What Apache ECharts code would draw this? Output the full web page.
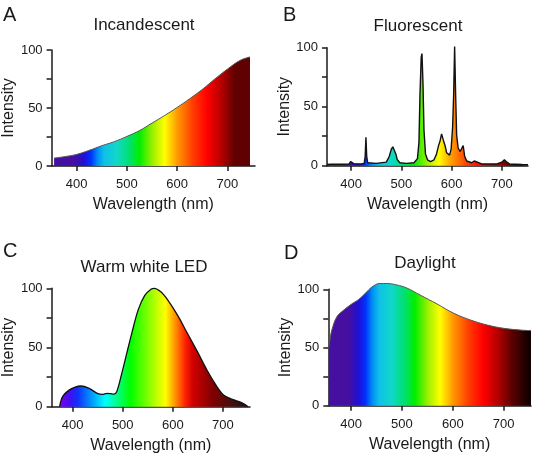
<!DOCTYPE html>
<html>
<head>
<meta charset="utf-8">
<script src="https://cdn.jsdelivr.net/npm/echarts@6/dist/echarts.min.js"></script>
<style>
html,body{margin:0;padding:0;background:#fff;}
#chart{width:533px;height:461px;}
</style>
</head>
<body>
<div id="chart"></div>
<script>
// ---------- Data ----------
const panelLetters = ['A', 'B', 'C', 'D'];
const panelTitles = ['Incandescent', 'Fluorescent', 'Warm white LED', 'Daylight'];
const xTickValues = [400, 500, 600, 700];
const yTickLabelValues = [0, 50, 100];

const wavelengthA = [355, 375, 400, 425, 450, 475, 500, 525, 550, 575, 600, 625, 650, 675, 700, 725, 745];
const intensityA  = [6.8, 8, 10, 13.5, 17.5, 21, 25.5, 30.5, 37, 43.5, 50.5, 58, 66, 75, 83.5, 91, 94];

const wavelengthB = [352, 360, 380, 396, 399, 402, 405, 420, 426, 428, 429.5, 431, 433, 450, 470, 476, 480, 483, 486, 489, 492, 497, 510, 525, 532, 535, 537, 539.5, 541, 543, 545, 548, 552, 558, 565, 570, 574, 577, 580, 582, 584, 587, 590, 593, 596, 599, 602, 604, 606, 608, 610, 613, 617, 620, 623, 626, 630, 640, 645, 648, 660, 690, 700, 705, 710, 715, 740, 752];
const intensityB  = [1, 1.2, 1.2, 1.5, 3.5, 4.5, 1.8, 1.5, 2, 8, 24, 8, 2.5, 2, 3, 8, 14, 16, 15, 10, 5, 2.5, 2, 2.5, 6, 20, 60, 92, 95, 70, 30, 10, 5, 3.5, 5, 10, 17, 21, 27, 24, 21, 17, 11, 12, 9, 14, 33, 60, 101, 60, 26, 15, 12, 13, 17, 8, 4, 2.5, 4, 2.5, 1.5, 1.5, 3, 5, 3, 1.5, 1, 0.8];

const wavelengthC = [374, 380, 393, 405, 416, 433, 449, 459, 469, 476, 482, 488, 498, 508, 518, 531, 544, 557, 563, 576, 590, 609, 629, 649, 668, 688, 701, 714, 727, 740, 750];
const intensityC  = [0, 8.5, 14, 16.5, 17.5, 15.5, 11.3, 10.4, 11.3, 11, 10.7, 12.7, 28, 45, 62, 82, 94, 99.4, 100, 97, 90, 77.5, 62, 46.5, 31, 17, 10, 7, 5, 2.8, 0];

const wavelengthD = [356, 358, 362, 372, 385, 401, 414, 428, 441, 457, 470, 490, 510, 536, 569, 602, 635, 668, 700, 733, 754];
const intensityD  = [50, 56, 65, 76.5, 82, 87.4, 91, 96.6, 102, 105, 105, 103.7, 101, 95, 87.4, 79.4, 73.6, 69.3, 66.5, 65, 64.5];

// spectrum colour stops (wavelength -> colour)
const spectrumNm     = [350, 395, 415, 428, 442, 455, 480, 505, 525, 552, 575, 600, 630, 660, 690, 715, 750];
const spectrumColors = ['#3a0a80', '#45109f', '#2010d8', '#0030ff', '#0090f5', '#10c0e8', '#10d8c8', '#00e070', '#00ee00', '#a0f000', '#ffff00', '#ff9a00', '#ff4000', '#ff0000', '#b00000', '#600000', '#100000'];
const ledNm     = [374, 395, 410, 440, 465, 490, 515, 550, 585, 605, 625, 640, 680, 720, 750];
const ledColors = ['#8000f0', '#4010f0', '#1030ff', '#00a0ff', '#00ffff', '#00ff80', '#00ff00', '#80ff00', '#ffff00', '#ff9000', '#ff2000', '#d00000', '#800000', '#401010', '#201010'];

// ---------- Helpers ----------
function gradientFor(wl, nms, cols) {
  const a = wl[0], b = wl[wl.length - 1];
  const stops = [];
  nms.forEach((nm, i) => {
    const o = (nm - a) / (b - a);
    if (o >= 0 && o <= 1) stops.push({ offset: o, color: cols[i] });
  });
  return new echarts.graphic.LinearGradient(0, 0, 1, 0, stops);
}
function pairs(x, y) { return x.map((v, i) => [v, y[i]]); }

const FONT = '"Liberation Sans", Arial, sans-serif';
const TXT = '#1a1a1a';
const AX = '#1a1a1a';

const grids = [
  { left: 49.3, right: 278, top: 50,   bottom: 295 },
  { left: 327,  right: 5,   top: 47.7, bottom: 295.3 },
  { left: 47.7, right: 283, top: 288.3, bottom: 54.3 },
  { left: 328.3, right: 2,  top: 289.3, bottom: 55.3 }
];
const xMins = [350, 352, 358, 355];
const xMaxs = [755, 752, 754, 754];
const yNameGaps = [31, 25, 25, 25];

const xAxes = grids.map((g, i) => ({
  type: 'value', gridIndex: i, min: xMins[i], max: xMaxs[i],
  axisLine: { show: true, onZero: false, lineStyle: { color: AX, width: 1.5 } },
  axisTick: { show: true, customValues: xTickValues, length: 5, lineStyle: { color: AX, width: 1.5 } },
  axisLabel: { customValues: xTickValues, margin: 12, fontSize: 13, color: TXT, fontFamily: FONT },
  splitLine: { show: false },
  name: 'Wavelength (nm)', nameLocation: 'middle', nameGap: 31,
  nameTextStyle: { fontSize: 16, color: TXT, fontFamily: FONT }
}));
const yAxes = grids.map((g, i) => ({
  type: 'value', gridIndex: i, min: 0, max: 100, interval: 25,
  axisLine: { show: true, onZero: false, lineStyle: { color: AX, width: 1.5 } },
  axisTick: { show: true, length: 5, lineStyle: { color: AX, width: 1.5 } },
  axisLabel: { customValues: yTickLabelValues, margin: 9, fontSize: 13, color: TXT, fontFamily: FONT },
  splitLine: { show: false },
  name: 'Intensity', nameLocation: 'middle', nameGap: yNameGaps[i],
  nameTextStyle: { fontSize: 16, color: TXT, fontFamily: FONT }
}));

const series = [
  { data: pairs(wavelengthA, intensityA), smooth: 0.4, line: '#555', w: 1, fill: gradientFor(wavelengthA, spectrumNm, spectrumColors) },
  { data: pairs(wavelengthB, intensityB), smooth: false, line: '#111', w: 1.4, fill: gradientFor(wavelengthB, spectrumNm, spectrumColors) },
  { data: pairs(wavelengthC, intensityC), smooth: 0.35, line: '#111', w: 1.3, fill: gradientFor(wavelengthC, ledNm, ledColors) },
  { data: pairs(wavelengthD, intensityD), smooth: 0.4, line: '#555', w: 1, fill: gradientFor(wavelengthD, spectrumNm, spectrumColors) }
].map((s, i) => ({
  type: 'line', xAxisIndex: i, yAxisIndex: i, data: s.data, smooth: s.smooth,
  showSymbol: false, symbol: 'none', clip: false, z: 1,
  lineStyle: { color: s.line, width: s.w },
  areaStyle: { color: s.fill, opacity: 1 },
  silent: true
}));

const letterPos = [[3, 15], [283, 15], [3, 251], [284, 253]];
const titlePos = [[144, 25], [418, 26], [144, 267], [425, 263]];
const graphics = [];
panelLetters.forEach((t, i) => graphics.push({
  type: 'text', x: letterPos[i][0], y: letterPos[i][1],
  style: { text: t, font: '20px ' + FONT, fill: TXT, align: 'left', verticalAlign: 'middle' }
}));
panelTitles.forEach((t, i) => graphics.push({
  type: 'text', x: titlePos[i][0], y: titlePos[i][1],
  style: { text: t, font: '17px ' + FONT, fill: TXT, align: 'center', verticalAlign: 'middle' }
}));

const chart = echarts.init(document.getElementById('chart'), null, { renderer: 'canvas' });
chart.setOption({
  animation: false,
  backgroundColor: '#fff',
  grid: grids,
  xAxis: xAxes,
  yAxis: yAxes,
  series: series,
  graphic: graphics
});
</script>
</body>
</html>
